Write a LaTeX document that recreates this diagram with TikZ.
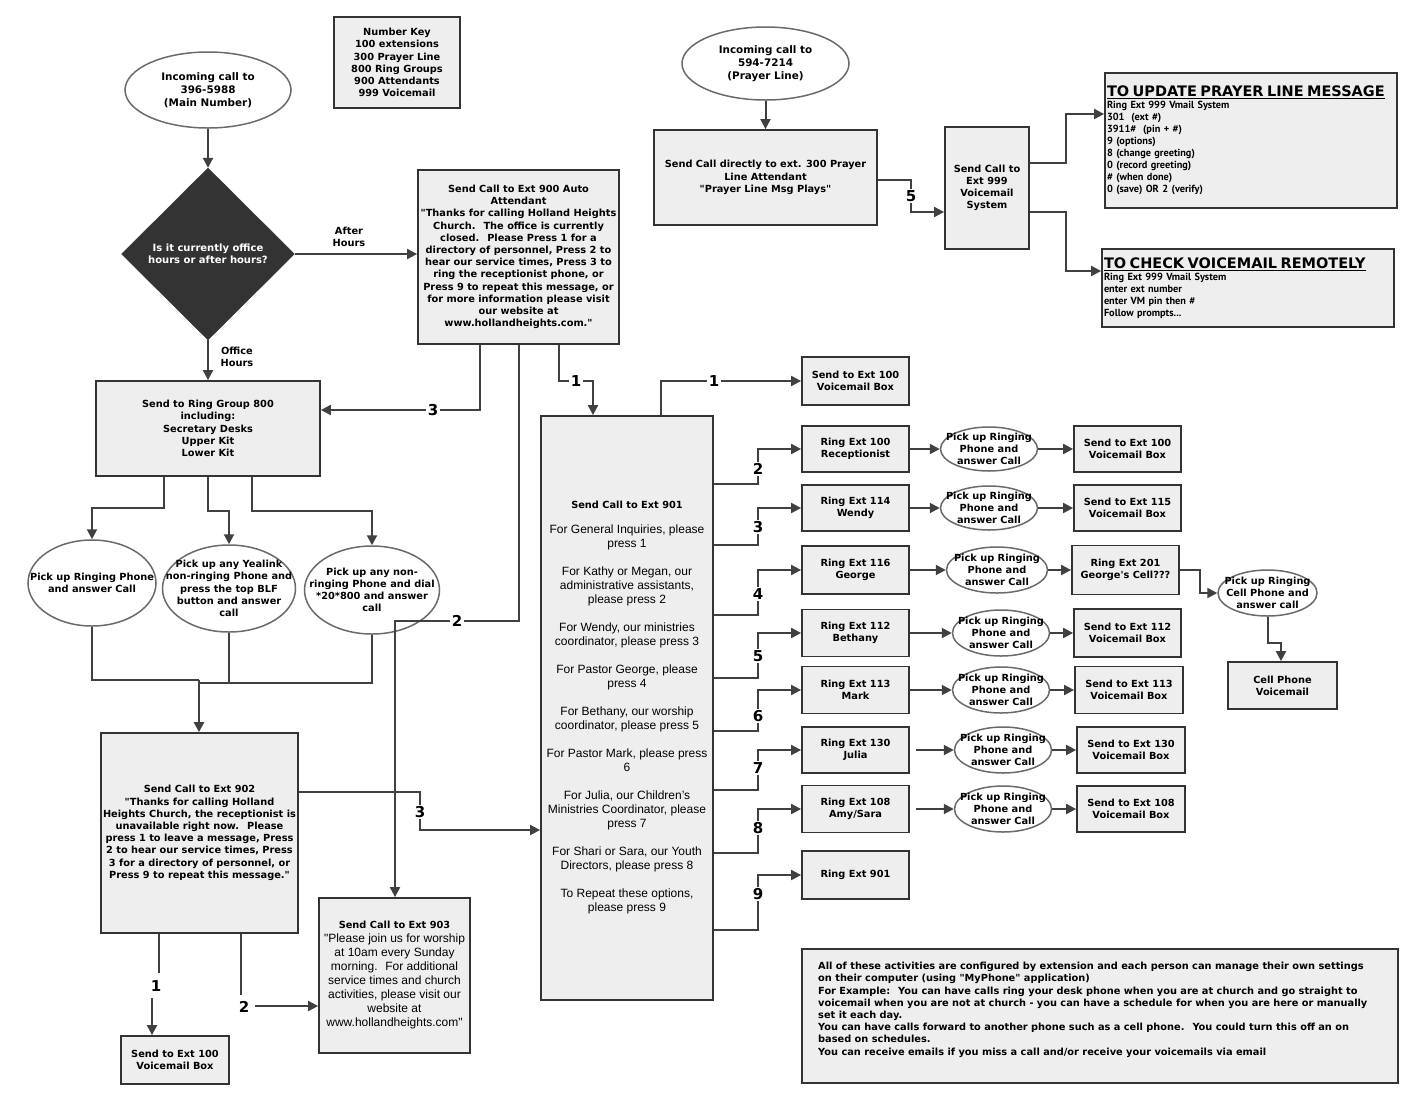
\documentclass[tikz,border=0pt]{standalone}
\usepackage{fontspec}
\usetikzlibrary{arrows.meta,shapes.geometric}
\newfontfamily\vf{DejaVu Sans}
\newfontfamily\af{Liberation Sans}
\newfontfamily\pf{PT Sans}
\definecolor{linec}{HTML}{404040}
\definecolor{boxline}{HTML}{333333}
\definecolor{boxfill}{HTML}{EEEEEE}
\definecolor{ovalline}{HTML}{6A6A6A}
\definecolor{diafill}{HTML}{333333}
\newcommand{\myoval}[5]{\node[oval,minimum width=#3pt,minimum height=#4pt] (#1) at (#2) {};\node[ovt] (#1t) at (#1.center) {#5};}
\newcommand{\mybox}[5]{\node[box,minimum width=#3pt,minimum height=#4pt] (#1) at (#2) {#5};}
\begin{document}
\begin{tikzpicture}[x=1pt,y=-1pt,
 bfnt/.style={font=\vf\bfseries\fontsize{9.8}{12.2}\selectfont},
 bigfnt/.style={font=\vf\bfseries\fontsize{10.4}{12.8}\selectfont},
 box/.style={draw=boxline,fill=boxfill,line width=1.8pt,inner sep=0pt,align=center,bfnt},
 oval/.style={ellipse,draw=ovalline,fill=white,line width=1.5pt,inner sep=0pt},
 ovt/.style={align=center,bfnt,inner sep=0pt},
 arr/.style={draw=linec,line width=2pt,-{Triangle[length=10pt,width=10pt]}},
 ln/.style={draw=linec,line width=2pt},
 lbl/.style={font=\vf\bfseries\fontsize{15}{15}\selectfont,fill=white,inner sep=1.5pt,text=black}]
\fill[white] (0,0) rectangle (1419,1104);
\useasboundingbox (0,0) rectangle (1419,1104);

% ---------- left part ----------
\mybox{key}{397,62.5}{126}{91}{Number Key\\100 extensions\\300 Prayer Line\\800 Ring Groups\\900 Attendants\\999 Voicemail}

\node[oval,minimum width=166pt,minimum height=76pt] (inc) at (208,90) {};
\node[ovt,bigfnt] (inct) at (inc.center) {Incoming call to\\396-5988\\(Main Number)};

\node[diamond,fill=diafill,draw=diafill,minimum width=173pt,minimum height=172pt,inner sep=0pt] (dia) at (208,254) {};
\node[ovt,text=white,font=\vf\bfseries\fontsize{10}{12}\selectfont] (diat) at (dia.center) {Is it currently office\\hours or after hours?};

\node[bfnt,align=center] (ah) at (349,237) {After\\Hours};
\node[bfnt,align=center] (oh) at (237,357) {Office\\Hours};

\mybox{aa}{518.5,257}{201}{174}{Send Call to Ext 900 Auto\\Attendant\\"Thanks for calling Holland Heights\\Church.~ The office is currently\\closed.~ Please Press 1 for a\\directory of personnel, Press 2 to\\hear our service times, Press 3 to\\ring the receptionist phone, or\\Press 9 to repeat this message, or\\for more information please visit\\our website at\\www.hollandheights.com."}

\mybox{rg}{208,428.5}{224}{95}{Send to Ring Group 800\\including:\\Secretary Desks\\Upper Kit\\Lower Kit}

\myoval{le1}{92,583}{128}{86}{Pick up Ringing Phone\\and answer Call}
\myoval{le2}{229,588.5}{133}{87}{Pick up any Yealink\\non-ringing Phone and\\press the top BLF\\button and answer\\call}
\myoval{le3}{372,590}{135}{88}{Pick up any non-\\ringing Phone and dial\\*20*800 and answer\\call}

\mybox{s902}{199.5,833}{197}{200}{Send Call to Ext 902\\"Thanks for calling Holland\\Heights Church, the receptionist is\\unavailable right now.~ Please\\press 1 to leave a message, Press\\2 to hear our service times, Press\\3 for a directory of personnel, or\\Press 9 to repeat this message."}

\mybox{vm0}{175,1060}{108}{48}{Send to Ext 100\\Voicemail Box}

\node[box,minimum width=151pt,minimum height=155pt,font=\af\fontsize{12}{14}\selectfont] (s903) at (394.5,975.5) {{\vf\bfseries\fontsize{9.8}{12}\selectfont Send Call to Ext 903}\\"Please join us for worship\\at 10am every Sunday\\morning.~ For additional\\service times and church\\activities, please visit our\\website at\\www.hollandheights.com"};

\node[box,minimum width=172pt,minimum height=584pt,font=\af\fontsize{12}{14}\selectfont] (s901) at (627,708) {{\vf\bfseries\fontsize{9.8}{12}\selectfont Send Call to Ext 901}\\[11pt]For General Inquiries, please\\press 1\\[14pt]For Kathy or Megan, our\\administrative assistants,\\please press 2\\[14pt]For Wendy, our ministries\\coordinator, please press 3\\[14pt]For Pastor George, please\\press 4\\[14pt]For Bethany, our worship\\coordinator, please press 5\\[14pt]For Pastor Mark, please press\\6\\[14pt]For Julia, our Children’s\\Ministries Coordinator, please\\press 7\\[14pt]For Shari or Sara, our Youth\\Directors, please press 8\\[14pt]To Repeat these options,\\please press 9};

% ---------- right column ----------
\mybox{vm1}{855.5,381}{107}{48}{Send to Ext 100\\Voicemail Box}
\mybox{r2}{855.5,449}{107}{46}{Ring Ext 100\\Receptionist}
\mybox{r3}{855.5,508}{107}{46}{Ring Ext 114\\Wendy}
\mybox{r4}{855.5,570}{107}{48}{Ring Ext 116\\George}
\mybox{r5}{855.5,633}{107}{47}{Ring Ext 112\\Bethany}
\mybox{r6}{855.5,690}{107}{47}{Ring Ext 113\\Mark}
\mybox{r7}{855.5,750}{107}{46}{Ring Ext 130\\Julia}
\mybox{r8}{855.5,809}{107}{47}{Ring Ext 108\\Amy/Sara}
\mybox{r9}{855.5,875}{107}{48}{Ring Ext 901}

\myoval{re2}{989,449}{97}{44}{Pick up Ringing\\Phone and\\answer Call}
\myoval{re3}{989,508}{97}{44}{Pick up Ringing\\Phone and\\answer Call}
\myoval{re4}{997,570}{101}{46}{Pick up Ringing\\Phone and\\answer Call}
\myoval{re5}{1001,633}{97}{46}{Pick up Ringing\\Phone and\\answer Call}
\myoval{re6}{1001,690}{97}{46}{Pick up Ringing\\Phone and\\answer Call}
\myoval{re7}{1003,750}{97}{46}{Pick up Ringing\\Phone and\\answer Call}
\myoval{re8}{1003,809}{97}{46}{Pick up Ringing\\Phone and\\answer Call}

\mybox{v2}{1127.5,449}{107}{46}{Send to Ext 100\\Voicemail Box}
\mybox{v3}{1127.5,508}{107}{46}{Send to Ext 115\\Voicemail Box}
\mybox{v4}{1125.5,570}{107}{49}{Ring Ext 201\\George's Cell???}
\mybox{v5}{1127.5,633}{107}{48}{Send to Ext 112\\Voicemail Box}
\mybox{v6}{1129,690}{108}{47}{Send to Ext 113\\Voicemail Box}
\mybox{v7}{1131,750}{108}{46}{Send to Ext 130\\Voicemail Box}
\mybox{v8}{1131,809}{108}{46}{Send to Ext 108\\Voicemail Box}

\myoval{cellp}{1267.5,593}{99}{46}{Pick up Ringing\\Cell Phone and\\answer call}
\mybox{cvm}{1282.5,685.5}{109}{47}{Cell Phone\\Voicemail}

% ---------- prayer line ----------
\node[oval,minimum width=167pt,minimum height=73pt] (pinc) at (765.5,63.5) {};
\node[ovt,bigfnt] (pinct) at (pinc.center) {Incoming call to\\594-7214\\(Prayer Line)};
\mybox{pl}{765.5,177.5}{223}{95}{Send Call directly to ext. 300 Prayer\\Line Attendant\\"Prayer Line Msg Plays"}
\mybox{v999}{987,188}{84}{122}{Send Call to\\Ext 999\\Voicemail\\System}

\node[box,minimum width=292pt,minimum height=135pt,text width=288pt,align=left,font=\pf\bfseries\fontsize{10.3}{12}\selectfont] (upd) at (1251,140.5) {{\vf\bfseries\fontsize{14.5}{14.5}\selectfont\underline{TO UPDATE PRAYER LINE MESSAGE}}\\[0pt]Ring Ext 999 Vmail System\\301~ (ext \#)\\3911\#~ (pin + \#)\\9 (options)\\8 (change greeting)\\0 (record greeting)\\\# (when done)\\0 (save) OR 2 (verify)};

\node[box,minimum width=292pt,minimum height=78pt,text width=288pt,align=left,font=\pf\bfseries\fontsize{10.3}{12}\selectfont] (chk) at (1248,288) {{\vf\bfseries\fontsize{14.5}{14.5}\selectfont\underline{TO CHECK VOICEMAIL REMOTELY}}\\[0pt]Ring Ext 999 Vmail System\\enter ext number\\enter VM pin then \#\\Follow prompts...};

\node[box,minimum width=596pt,minimum height=134pt] (note) at (1100,1016) {};
\node[bfnt,anchor=north west,align=left,inner sep=0pt] (notet) at (818,962) {All of these activities are configured by extension and each person can manage their own settings\\on their computer (using "MyPhone" application)\\For Example:~ You can have calls ring your desk phone when you are at church and go straight to\\voicemail when you are not at church - you can have a schedule for when you are here or manually\\set it each day.\\You can have calls forward to another phone such as a cell phone.~ You could turn this off an on\\based on schedules.\\You can receive emails if you miss a call and/or receive your voicemails via email};

% ---------- connectors ----------
\draw[arr] (inc) -- (dia);
\draw[arr] (dia.east) -- (dia.east -| aa.west);
\draw[arr] (dia.south) -- (rg.north);

\coordinate (a3) at (480,410);
\draw[arr] (aa.south -| a3) -- (a3) -- (a3 -| rg.east);
\coordinate (a2a) at (519,621); \coordinate (a2b) at (395,621);
\draw[arr] (aa.south -| a2a) -- (a2a) -- (a2b) -- (a2b |- s903.north);
\coordinate (a1a) at (559,381); \coordinate (a1b) at (593,381);
\draw[arr] (aa.south -| a1a) -- (a1a) -- (a1b) -- (a1b |- s901.north);

\coordinate (rr1) at (164,508); \coordinate (rr2) at (208,511); \coordinate (rr3) at (252,511);
\draw[arr] (rg.south -| rr1) -- (rr1) -- (rr1 -| le1) -- (le1.north);
\draw[arr] (rg.south -| rr2) -- (rr2) -- (rr2 -| le2) -- (le2.north);
\draw[arr] (rg.south -| rr3) -- (rr3) -- (rr3 -| le3) -- (le3.north);

\coordinate (j1) at (199,680); \coordinate (j2) at (199,683);
\draw[ln] (le1.south) |- (j1);
\draw[ln] (le2.south) |- (j2);
\draw[ln] (le3.south) |- (j2);
\draw[arr,line width=2.6pt] (j1) -- (j1 |- s902.north);

\coordinate (b3a) at (420,792); \coordinate (b3b) at (420,830);
\draw[arr] (s902.east |- b3a) -- (b3a) -- (b3b) -- (b3b -| s901.west);
\coordinate (b1a) at (159,973); \coordinate (b1b) at (152,998);
\draw[ln] (s902.south -| b1a) -- (b1a);
\draw[arr] (b1b) -- (b1b |- vm0.north);
\coordinate (b2a) at (241,995); \coordinate (b2b) at (255,1006);
\draw[ln] (s902.south -| b2a) -- (b2a);
\draw[arr] (b2b) -- (b2b -| s903.west);

\coordinate (c1a) at (661,381);
\draw[arr] (s901.north -| c1a) -- (c1a) -- (c1a -| vm1.west);
\coordinate (o2) at (758,484); \coordinate (o3) at (758,545); \coordinate (o4) at (758,615);
\coordinate (o5) at (758,678); \coordinate (o6) at (758,731); \coordinate (o7) at (758,790);
\coordinate (o8) at (758,853); \coordinate (o9) at (758,930);
\draw[arr] (s901.east |- o2) -- (o2) -- (o2 |- r2) -- (r2.west);
\draw[arr] (s901.east |- o3) -- (o3) -- (o3 |- r3) -- (r3.west);
\draw[arr] (s901.east |- o4) -- (o4) -- (o4 |- r4) -- (r4.west);
\draw[arr] (s901.east |- o5) -- (o5) -- (o5 |- r5) -- (r5.west);
\draw[arr] (s901.east |- o6) -- (o6) -- (o6 |- r6) -- (r6.west);
\draw[arr] (s901.east |- o7) -- (o7) -- (o7 |- r7) -- (r7.west);
\draw[arr] (s901.east |- o8) -- (o8) -- (o8 |- r8) -- (r8.west);
\draw[arr] (s901.east |- o9) -- (o9) -- (o9 |- r9) -- (r9.west);

\draw[arr] (r2) -- (re2); \draw[arr] (re2) -- (v2);
\draw[arr] (r3) -- (re3); \draw[arr] (re3) -- (v3);
\draw[arr] (r4) -- (re4); \draw[arr] (re4) -- (v4);
\draw[arr] (r5) -- (re5); \draw[arr] (re5) -- (v5);
\draw[arr] (r6) -- (re6); \draw[arr] (re6) -- (v6);
\draw[arr,shorten <=6pt] (r7) -- (re7); \draw[arr] (re7) -- (v7);
\draw[arr,shorten <=6pt] (r8) -- (re8); \draw[arr] (re8) -- (v8);

\coordinate (g1) at (1200,593);
\draw[arr] (v4.east) -- (v4.east -| g1) -- (g1) -- (cellp.west);
\coordinate (g2) at (1281,643);
\draw[arr] (cellp.south) |- (g2) -- (g2 |- cvm.north);

\draw[arr] (pinc) -- (pl);
\coordinate (p5a) at (911,180); \coordinate (p5b) at (911,212);
\draw[arr] (pl.east |- p5a) -- (p5a) -- (p5b) -- (p5b -| v999.west);
\coordinate (q1) at (1066,163); \coordinate (q1b) at (1066,114);
\coordinate (q2) at (1066,212); \coordinate (q2b) at (1066,271);
\draw[arr] (v999.east |- q1) -- (q1) -- (q1b) -- (q1b -| upd.west);
\draw[arr] (v999.east |- q2) -- (q2) -- (q2b) -- (q2b -| chk.west);

% ---------- labels ----------
\node[lbl] (la3) at (433,410) {3};
\node[lbl] (la2) at (457,621) {2};
\node[lbl] (la1) at (576,381) {1};
\node[lbl] (lb3) at (420,812) {3};
\node[lbl] (lb1) at (156,986) {1};
\node[lbl] (lb2) at (244,1007) {2};
\node[lbl] (lc1) at (714,381) {1};
\node[lbl] (lc2) at (758,469) {2};
\node[lbl] (lc3) at (758,527) {3};
\node[lbl] (lc4) at (758,594) {4};
\node[lbl] (lc5) at (758,656) {5};
\node[lbl] (lc6) at (758,716) {6};
\node[lbl] (lc7) at (758,768) {7};
\node[lbl] (lc8) at (758,828) {8};
\node[lbl] (lc9) at (758,894) {9};
\node[lbl] (lp5) at (911,196) {5};
\end{tikzpicture}
\end{document}
